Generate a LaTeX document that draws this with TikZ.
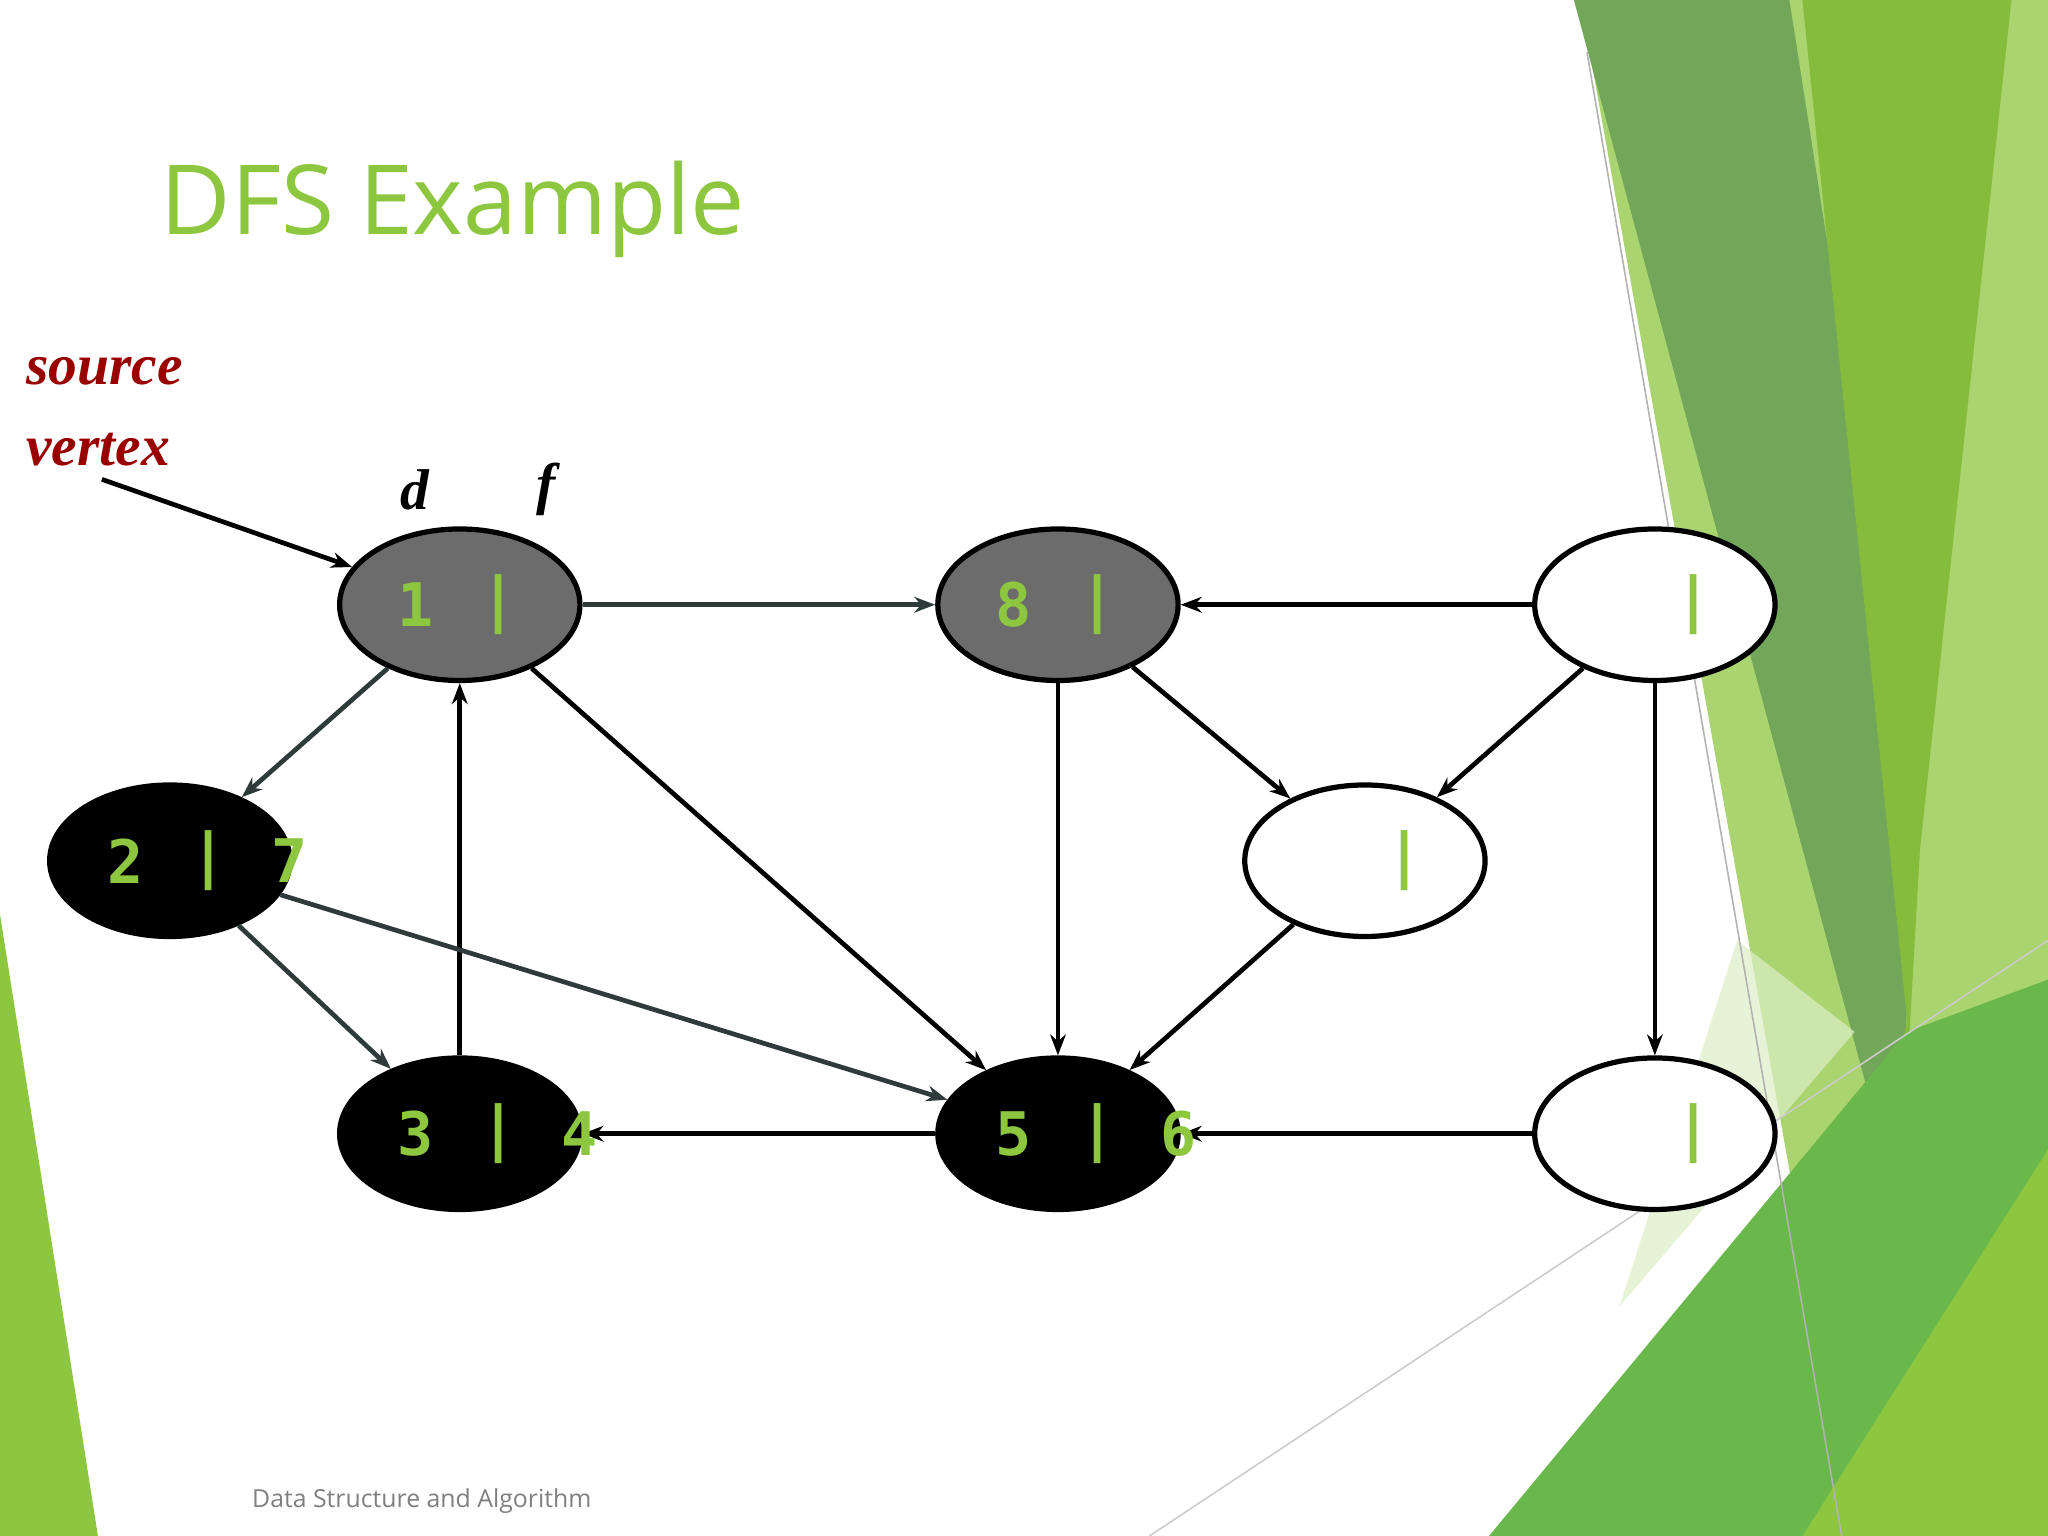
\documentclass[tikz,border=0pt]{standalone}
\usepackage{fontspec}
\setmainfont{Open Sans}
\newfontfamily\serifbi{Liberation Serif}
\newfontfamily\monof{DejaVu Sans Mono}
\usetikzlibrary{arrows.meta,shapes.geometric}
\definecolor{tgreen}{HTML}{8DC63F}
\definecolor{dred}{HTML}{990000}
\definecolor{edgec}{HTML}{2F3B3B}
\begin{document}
\begin{tikzpicture}[x=0.5pt,y=-0.5pt,
  vert/.style={ellipse,draw=black,line width=2pt,minimum width=92pt,minimum height=58pt,inner sep=0pt},
  grayv/.style={vert,fill=gray!85!black},
  blackv/.style={vert,fill=black},
  whitev/.style={vert,fill=white},
  lab/.style={text=tgreen,font=\monof\bfseries\fontsize{23}{23}\selectfont,anchor=center},
  edge/.style={line width=1.8pt,-{Stealth[length=8pt,width=6pt]}},
  bedge/.style={edge,draw=edgec}]
\useasboundingbox (0,0) rectangle (1568,1176);
\fill[white] (0,0) rectangle (1568,1176);
% background decoration
\fill[tgreen!75!white] (1210,0) -- (1568,0) -- (1568,1176) -- (1420,1176) -- cycle;
\fill[green!20!gray!70!tgreen] (1205,0) -- (1370,0) -- (1470,640) -- (1450,910) -- cycle;
\fill[tgreen!95!black] (1380,0) -- (1540,0) -- (1470,650) -- (1440,1176) -- (1400,1176) -- (1460,780) -- cycle;
\fill[tgreen!30!white,opacity=0.7] (1330,720) -- (1420,790) -- (1240,1000) -- cycle;
\fill[green!35!gray!60!tgreen] (1140,1176) -- (1460,790) -- (1568,750) -- (1568,1176) -- cycle;
\fill[tgreen] (1380,1176) -- (1568,880) -- (1568,1176) -- cycle;
\fill[tgreen] (0,700) -- (75,1176) -- (0,1176) -- cycle;
\draw[gray!60,line width=0.6pt] (1215,40) -- (1410,1176);
\draw[gray!40,line width=0.6pt] (880,1176) -- (1568,720);
% title & footer
\node[anchor=west,text=tgreen,font=\fontsize{37}{37}\selectfont] (title) at (116,160) {DFS Example};
\node[anchor=west,text=gray,font=\fontsize{9.5}{10}\selectfont] (foot) at (186,1149) {Data Structure and Algorithm};
\node[anchor=west,text=dred,font=\serifbi\bfseries\itshape\fontsize{22}{31}\selectfont,align=left] (src) at (13,315) {source\\vertex};
\node[font=\serifbi\bfseries\itshape\fontsize{22}{22}\selectfont] (dl) at (318,375) {d};
\node[font=\serifbi\bfseries\itshape\fontsize{22}{22}\selectfont] (fl) at (418,375) {f};
% vertices
\node[grayv] (n1) at (352,463) {};
\node[grayv] (n8) at (810,463) {};
\node[whitev] (ntr) at (1267,463) {};
\node[whitev] (nm) at (1045,659) {};
\node[blackv] (n2) at (130,659) {};
\node[blackv] (n3) at (352,868) {};
\node[blackv] (n5) at (810,868) {};
\node[whitev] (nbr) at (1267,868) {};
% edges
\coordinate (sv) at (78,367);
\draw[edge] (sv) -- (n1);
\draw[bedge] (n1) -- (n8);
\draw[edge] (ntr) -- (n8);
\draw[bedge] (n1) -- (n2);
\draw[edge] (n1) -- (n5);
\draw[edge] (n3) -- (n1);
\draw[bedge] (n2) -- (n3);
\draw[bedge] (n2) -- (n5);
\draw[edge] (n8) -- (n5);
\draw[edge] (n8) -- (nm);
\draw[edge] (ntr) -- (nm);
\draw[edge] (nm) -- (n5);
\draw[edge] (ntr) -- (nbr);
\draw[edge] (n5) -- (n3);
\draw[edge] (nbr) -- (n5);
% labels
\foreach \n/\d/\f in {n1/1/,n8/8/,ntr//,nm//,n2/2/7,n3/3/4,n5/5/6,nbr//}{
  \node[lab] at ([xshift=-17pt]\n.center) {\d};
  \node[lab] at ([xshift=15pt]\n.center) {|};
  \node[lab] at ([xshift=46pt]\n.center) {\f};
}
\end{tikzpicture}
\end{document}
